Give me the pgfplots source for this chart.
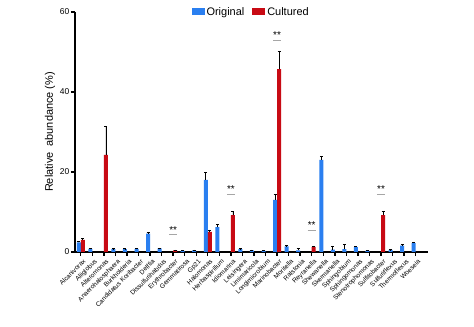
\documentclass[border=0pt]{standalone}
\usepackage{fontspec}
\setmainfont{Liberation Sans}
\usepackage{pgfplots}
\pgfplotsset{compat=1.18}
\usepackage{pgfplotstable}
\definecolor{origblue}{RGB}{42,127,240}
\definecolor{cultred}{RGB}{200,10,20}

\pgfplotstableread{
x y e
0 2.4 0.3
1 0.8 0.1
3 0.7 0.1
4 0.7 0.1
5 0.8 0.1
6 4.6 0.4
7 0.9 0.1
9 0.3 0.1
10 0.4 0.1
11 18.0 1.9
12 6.2 0.6
14 0.7 0.1
15 0.4 0.1
16 0.3 0.1
17 13.0 1.3
18 1.4 0.2
19 0.4 0.4
21 23.0 0.9
22 0.6 0.9
23 0.7 1.2
24 1.2 0.2
25 0.3 0.1
27 0.5 0.1
28 1.6 0.3
29 2.2 0.3
}\orig

\pgfplotstableread{
x y e
0 3.0 0.3
2 24.3 7.2
8 0.4 0.1
11 5.0 0.5
13 9.2 0.9
17 45.7 4.5
20 1.3 0.2
26 9.2 0.9
}\cult

\newcommand{\sig}[3]{%
  \node[font=\fontsize{10}{10}\selectfont, anchor=base, inner sep=0pt] at (axis cs:#1,#2) {**};
  \draw[gray!70, line width=0.8bp] (axis cs:#1-0.35,#3) -- (axis cs:#1+0.35,#3);
}

\begin{document}
\begin{tikzpicture}
\begin{axis}[
  scale only axis, width=353bp, height=240bp,
  xmin=-0.5, xmax=30.07, ymin=0, ymax=60,
  axis lines=left, axis line style={line width=1.6bp, -},
  ybar=0pt, bar width=4bp,
  xtick={0,...,29},
  xticklabels={Alcanivorax, Aliiglobus, Alteromonas, Anaerohalosphaera, Burkholderia, Candidatus Koribacter, Delftia, Dissulfurihabdus, Erythrobacter, Gemmatirosa, Gp21, Halomonas, Herbaspirillum, Idiomarina, Leisingera, Limimaricola, Longimicrobium, Marinobacter, Moritella, Ralstonia, Reyranella, Shewanella, Skermanella, Sphingobium, Sphingomonas, Stenotrophomonas, Sulfitobacter, Sulfuriflexus, Thermoflexus, Woeseia},
  xticklabel style={rotate=45, anchor=north east, font=\fontsize{6.5}{7}\selectfont, inner sep=0.5bp, yshift=-2.5bp},
  ytick={0,20,40,60},
  yticklabel style={font=\fontsize{8.5}{9}\selectfont, inner sep=1.5bp},
  /pgf/number format/assume math mode=true,
  tick style={black, line width=1.4bp},
  tick align=outside, major tick length=4bp,
  ylabel={Relative\ \ abundance (\%)},
  ylabel style={font=\fontsize{11}{12}\selectfont, at={(axis description cs:-0.071,0.5)}, anchor=center},
  legend style={at={(axis description cs:0.499,1.0)}, anchor=center, draw=none, fill=none,
    font=\fontsize{11}{12}\selectfont, legend columns=2,
    /tikz/every even column/.append style={column sep=6bp}},
  legend image code/.code={\fill[#1] (0bp,-3.5bp) rectangle (13bp,3.5bp);},
  clip=false,
  error bars/y dir=plus, error bars/y explicit,
  error bars/error bar style={black, line width=0.7bp},
  error bars/error mark options={black, rotate=90, mark size=1.5bp, line width=0.7bp},
]
\addplot[fill=origblue, draw=none] table[x=x, y=y, y error=e] {\orig};
\addplot[fill=cultred, draw=none] table[x=x, y=y, y error=e] {\cult};
\legend{Original, Cultured}

\coordinate (A) at (rel axis cs:0,0);
\coordinate (B) at (rel axis cs:1,1);

\sig{8}{4.65}{4.5}
\sig{13}{14.85}{14.5}
\sig{17}{53.3}{53.0}
\sig{20}{5.85}{5.5}
\sig{26}{14.85}{14.5}
\end{axis}
\pgfresetboundingbox
\path ([shift={(-75bp,-75bp)}]A) rectangle ([shift={(46bp,12bp)}]B);
\end{tikzpicture}
\end{document}
